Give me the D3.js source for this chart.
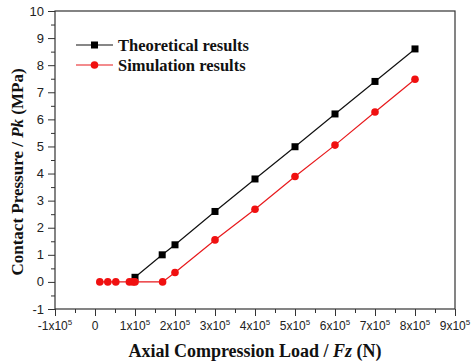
<!DOCTYPE html>
<html>
<head>
<meta charset="utf-8">
<script src="https://cdn.jsdelivr.net/npm/d3@7"></script>
<style>
  body { margin: 0; background: #fff; }
  svg { display: block; }
</style>
</head>
<body>
<svg class="plot"></svg>
<script>
// Theoretical results (black squares)
const theoLoad = [1.0e5, 1.68e5, 2.0e5, 3.0e5, 4.0e5, 5.0e5, 6.0e5, 7.0e5, 8.0e5]
const theoPressure = [0.17, 1.0, 1.37, 2.6, 3.8, 4.99, 6.2, 7.4, 8.6]
// Simulation results (red circles)
const simLoad = [0.12e5, 0.32e5, 0.52e5, 0.86e5, 0.95e5, 1.0e5, 1.69e5, 2.0e5, 3.0e5, 4.0e5, 5.0e5, 6.0e5, 7.0e5, 8.0e5]
const simPressure = [0, 0, 0, 0, 0, 0, 0, 0.35, 1.55, 2.68, 3.89, 5.05, 6.27, 7.48]
// ticks
const xTicks = [-1, 0, 1, 2, 3, 4, 5, 6, 7, 8, 9]
const yTicks = [-1, 0, 1, 2, 3, 4, 5, 6, 7, 8, 9, 10]
const legendLabels = ['Theoretical results', 'Simulation results']

const W = 474, H = 363
const margin = {left: 55, top: 11, right: 19, bottom: 54}
const w = W - margin.left - margin.right
const h = H - margin.top - margin.bottom

const svg = d3.select('.plot').attr('width', W).attr('height', H)
const g = svg.append('g').attr('transform', `translate(${margin.left},${margin.top})`)

const xScale = d3.scaleLinear().domain([-1e5, 9e5]).range([0, w])
const yScale = d3.scaleLinear().domain([-1, 10]).range([h, 0])

// frame
g.append('rect').attr('width', w).attr('height', h)
  .attr('fill', 'none').attr('stroke', '#333').attr('stroke-width', 1.2)

// x axis: major + minor ticks
const xAxis = g.append('g').attr('transform', `translate(0,${h})`)
xAxis.call(d3.axisBottom(xScale).tickValues(d3.range(-1e5, 9.01e5, 0.5e5)).tickSize(4).tickFormat(''))
xAxis.call(a => a.select('.domain').remove())
xAxis.selectAll('.tick line').attr('stroke', '#333')
xAxis.selectAll('.tick').filter(d => Math.abs(d / 1e5 - Math.round(d / 1e5)) < 1e-9)
  .select('line').attr('y2', 7)
const xLab = xAxis.selectAll('.xlab').data(xTicks).join('text')
  .attr('class', 'xlab')
  .attr('x', d => xScale(d * 1e5))
  .attr('y', 21)
  .attr('text-anchor', 'middle')
  .attr('font-family', 'Liberation Sans, Arial, sans-serif')
  .attr('font-size', 12)
  .attr('fill', '#222')
xLab.each(function(d) {
  const t = d3.select(this)
  if (d === 0) { t.text('0'); return }
  t.append('tspan').text((d < 0 ? '-' : '') + Math.abs(d) + 'x10')
  t.append('tspan').attr('font-size', 8).attr('dy', -5).text('5')
})

// y axis
const yAxis = g.append('g')
yAxis.call(d3.axisLeft(yScale).tickValues(d3.range(-1, 10.01, 0.5)).tickSize(4).tickFormat(''))
yAxis.call(a => a.select('.domain').remove())
yAxis.selectAll('.tick line').attr('stroke', '#333')
yAxis.selectAll('.tick').filter(d => Math.abs(d - Math.round(d)) < 1e-9)
  .select('line').attr('x2', -7)
yAxis.selectAll('.ylab').data(yTicks).join('text')
  .attr('class', 'ylab')
  .attr('x', -11)
  .attr('y', d => yScale(d))
  .attr('dy', '0.35em')
  .attr('text-anchor', 'end')
  .attr('font-family', 'Liberation Sans, Arial, sans-serif')
  .attr('font-size', 13)
  .attr('fill', '#222')
  .text(d => d)

// axis titles
const xTitle = svg.append('text')
  .attr('x', margin.left + w / 2).attr('y', 357)
  .attr('text-anchor', 'middle')
  .attr('font-family', 'Liberation Serif, Times New Roman, serif')
  .attr('font-weight', 'bold').attr('font-size', 18).attr('fill', '#111')
xTitle.append('tspan').text('Axial Compression Load / ')
xTitle.append('tspan').attr('font-style', 'italic').text('Fz')
xTitle.append('tspan').text(' (N)')

const yTitle = svg.append('text')
  .attr('transform', `translate(23,${margin.top + h / 2 + 12}) rotate(-90)`)
  .attr('text-anchor', 'middle')
  .attr('font-family', 'Liberation Serif, Times New Roman, serif')
  .attr('font-weight', 'bold').attr('font-size', 17).attr('fill', '#111')
yTitle.append('tspan').text('Contact Pressure / ')
yTitle.append('tspan').attr('font-style', 'italic').text('Pk')
yTitle.append('tspan').text(' (MPa)')

// series
const theo = theoLoad.map((x, i) => ({x, y: theoPressure[i]}))
const sim = simLoad.map((x, i) => ({x, y: simPressure[i]}))
const line = d3.line().x(d => xScale(d.x)).y(d => yScale(d.y))

g.append('path').datum(theo).attr('d', line)
  .attr('fill', 'none').attr('stroke', '#111').attr('stroke-width', 1.2)
g.selectAll('.theoPoint').data(theo).join('rect')
  .attr('class', 'theoPoint')
  .attr('x', d => xScale(d.x) - 3.5).attr('y', d => yScale(d.y) - 3.5)
  .attr('width', 7).attr('height', 7).attr('fill', '#000')

g.append('path').datum(sim).attr('d', line)
  .attr('fill', 'none').attr('stroke', '#e8191c').attr('stroke-width', 1.2)
g.selectAll('.simPoint').data(sim).join('circle')
  .attr('class', 'simPoint')
  .attr('cx', d => xScale(d.x)).attr('cy', d => yScale(d.y))
  .attr('r', 3.8).attr('fill', '#f01010')

// legend
const legend = svg.append('g').attr('transform', 'translate(76,45)')
const colors = ['#111', '#e8191c']
legendLabels.forEach((lab, i) => {
  const row = legend.append('g').attr('transform', `translate(0,${i * 20})`)
  row.append('line').attr('x1', 0).attr('x2', 37).attr('stroke', colors[i]).attr('stroke-width', 1.2)
  if (i === 0) row.append('rect').attr('x', 15).attr('y', -3.5).attr('width', 7).attr('height', 7).attr('fill', '#000')
  else row.append('circle').attr('cx', 18.5).attr('r', 3.8).attr('fill', '#f01010')
  row.append('text').attr('x', 42).attr('dy', '0.35em')
    .attr('font-family', 'Liberation Serif, Times New Roman, serif')
    .attr('font-weight', 'bold').attr('font-size', 16.5).attr('fill', '#111')
    .text(lab)
})
</script>
</body>
</html>
